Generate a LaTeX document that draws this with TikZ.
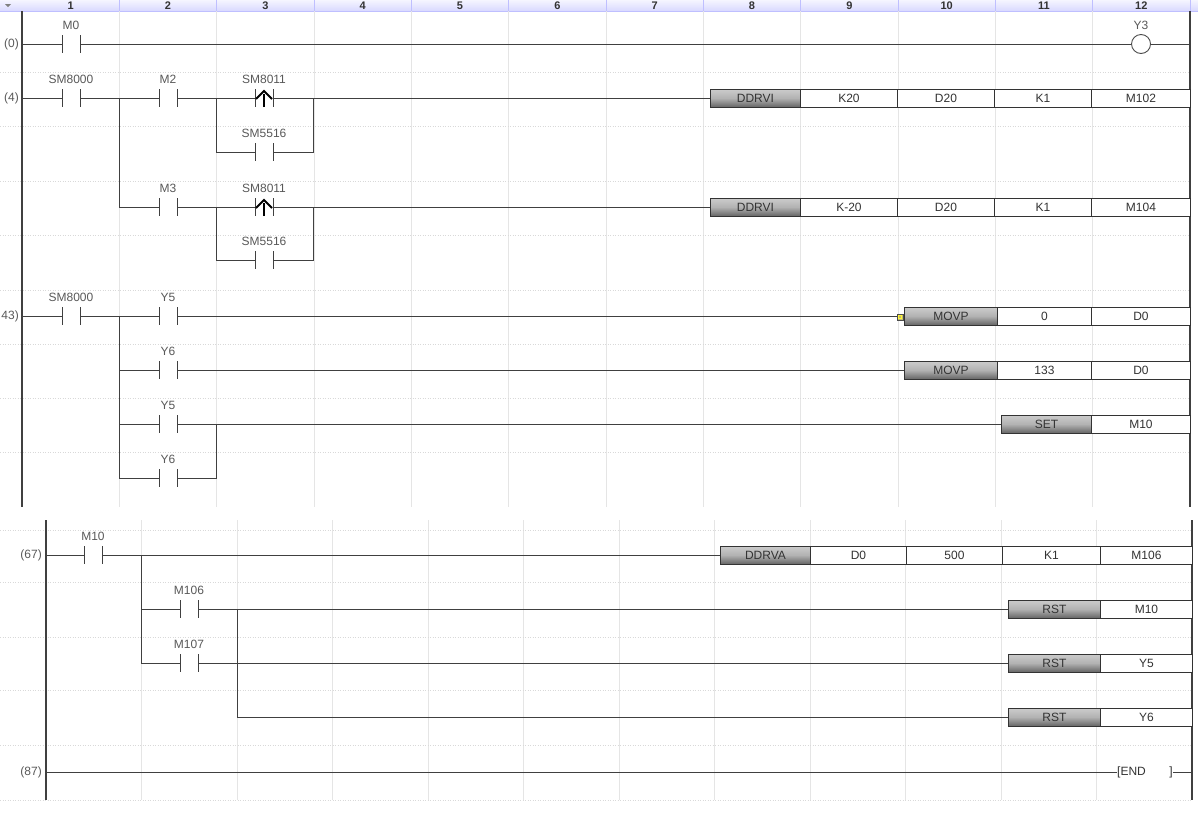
\documentclass[tikz,border=0pt]{standalone}
\usepackage{fontspec}
\setmainfont{Liberation Sans}
\begin{document}
\begin{tikzpicture}[x=1pt,y=-1pt,
  wire/.style={line width=0.9pt,draw=black!75},
  rail/.style={line width=1.3pt,draw=black!75},
  grid/.style={draw=black!15,line width=0.5pt,dotted},
  vgrid/.style={draw=black!10,line width=0.5pt},
  lbl/.style={font=\fontsize{12}{13}\selectfont,text=black!65,inner sep=0pt},
  ins/.style={draw=black!80,line width=0.9pt,top color=black!20,bottom color=black!60,middle color=black!30},
  cell/.style={draw=black!80,line width=0.9pt,fill=white},
  txt/.style={font=\fontsize{12}{13}\selectfont,text=black!80,inner sep=0pt}]
\useasboundingbox (0,0) rectangle (1198,822);
\fill[white] (0,0) rectangle (1198,822);
% header
\shade[top color=blue!4,bottom color=blue!15] (0,0) rectangle (1198,11);
\draw[blue!25] (0,11) -- (1198,11);
\fill[black!50] (5,4) -- (11,4) -- (8,7) -- cycle;
\foreach \i in {1,...,12}{
  \pgfmathsetmacro\xc{22+97.33*(\i-0.5)}
  \node[font=\fontsize{11}{11}\selectfont\bfseries,text=black!80,inner sep=0pt] (h\i) at (\xc,5.5) {\i};
  \draw[blue!25] ({22+97.33*\i},0) -- ({22+97.33*\i},11);
}
% top grid
\foreach \i in {1,...,11}{\draw[vgrid] ({22+97.33*\i},11) -- ({22+97.33*\i},507);}
\foreach \y in {72,126,181,235,290,344,398,452}{\draw[grid] (0,\y) -- (1190,\y);}
% bottom grid
\foreach \i in {1,...,11}{\draw[vgrid] ({46+95.5*\i},520) -- ({46+95.5*\i},800);}
\foreach \y in {530,582,637,690,745,800}{\draw[grid] (0,\y) -- (1192,\y);}
% contact macro
\newcommand\ctc[4]{% name, x, y, label
  \coordinate (#1) at (#2,#3);
  \coordinate (#1w) at (#2-9,#3); \coordinate (#1e) at (#2+9,#3);
  \draw[wire] (#2-9,#3-9) -- (#2-9,#3+9) (#2+9,#3-9) -- (#2+9,#3+9);
  \node[lbl] (#1l) at (#2,#3-19) {#4};}
\newcommand\edge[4]{\ctc{#1}{#2}{#3}{#4}
  \draw[line width=1.6pt] (#2,#3+9) -- (#2,#3-4);
  \draw[line width=1.8pt] (#2-8,#3+1) -- (#2,#3-7) -- (#2+8,#3+1);}
% rails
\draw[rail] (22,11) -- (22,507);
\draw[rail] (1190,11) -- (1190,507);
\draw[rail] (46,520) -- (46,800);
\draw[rail] (1192,520) -- (1192,800);
% step labels
\node[lbl,anchor=east] (s0) at (19,44) {(0)};
\node[lbl,anchor=east] (s4) at (19,98) {(4)};
\node[lbl,anchor=east] (s43) at (19,316) {43)};
\node[lbl,anchor=east] (s67) at (42,555) {(67)};
\node[lbl,anchor=east] (s87) at (42,772) {(87)};
% rung 0
\ctc{m0}{71}{44}{M0}
\node[draw=black!70,line width=0.9pt,circle,minimum size=19pt,inner sep=0pt,fill=white] (y3) at (1141,44) {};
\node[lbl] (y3l) at (1141,25) {Y3};
\draw[wire] (22,44) -- (m0w) (m0e) -- (y3.west) (y3.east) -- (1190,44);
% rung 4
\ctc{sa}{71}{98}{SM8000}
\ctc{m2}{168}{98}{M2}
\edge{ea}{264}{98}{SM8011}
\ctc{sb}{264}{152}{SM5516}
\ctc{m3}{168}{207}{M3}
\edge{eb}{264}{207}{SM8011}
\ctc{sc}{264}{260}{SM5516}
\coordinate (b1) at (119,98); \coordinate (b1b) at (119,207);
\draw[wire] (22,98) -- (saw) (sae) -- (m2w) (m2e) -- (eaw);
\draw[wire] (b1) -- (b1b) -- (m3w) (m3e) -- (ebw);
\draw[wire] (216,98) -- (216,152) -- (sbw) (sbe) -- (313,152) -- (313,98);
\draw[wire] (216,207) -- (216,260) -- (scw) (sce) -- (313,260) -- (313,207);
\newcommand\instr[4]{% name, y, x0, x1
  \node[ins,minimum height=18pt,minimum width={#4-#3},inner sep=0pt,anchor=west,txt] (#1) at (#3,#2) {};}
\newcommand\cells[3]{% y, list of x0/x1/text, name prefix
  \foreach \a/\b/\t [count=\k] in {#2}{
    \node[cell,txt,minimum height=18pt,minimum width={\b-\a},inner sep=0pt,anchor=west] (#3\k) at (\a,#1) {\t};}}
\instr{dd1}{98}{710}{800}\node[txt] at (dd1) {DDRVI};
\cells{98}{800/897/K20,897/994/D20,994/1091/K1,1091/1190/M102}{c1}
\draw[wire] (eae) -- (dd1.west);
\instr{dd2}{207}{710}{800}\node[txt] at (dd2) {DDRVI};
\cells{207}{800/897/K-20,897/994/D20,994/1091/K1,1091/1190/M104}{c2}
\draw[wire] (ebe) -- (dd2.west);
% rung 43
\ctc{sd}{71}{316}{SM8000}
\ctc{y5a}{168}{316}{Y5}
\ctc{y6a}{168}{370}{Y6}
\ctc{y5b}{168}{424}{Y5}
\ctc{y6b}{168}{478}{Y6}
\draw[wire] (22,316) -- (sdw) (sde) -- (y5aw);
\draw[wire] (119,316) -- (119,478) -- (y6bw);
\draw[wire] (119,370) -- (y6aw) (119,424) -- (y5bw);
\draw[wire] (y6be) -- (216,478) -- (216,424);
\instr{mv1}{316}{904}{997}\node[txt] at (mv1) {MOVP};
\cells{316}{997/1091/0,1091/1190/D0}{c3}
\instr{mv2}{370}{904}{997}\node[txt] at (mv2) {MOVP};
\cells{370}{997/1091/133,1091/1190/D0}{c4}
\instr{st}{424}{1001}{1091}\node[txt] at (st) {SET};
\cells{424}{1091/1190/M10}{c5}
\draw[wire] (y5ae) -- (mv1.west) (y6ae) -- (mv2.west) (y5be) -- (st.west);
\node[draw=black!70,fill=yellow!60!black!70,minimum size=6pt,inner sep=0pt] (ym) at (900,317) {};
\node[draw=yellow!80,minimum size=3pt,inner sep=0pt] at (ym) {};
% rung 67
\ctc{m10}{93}{555}{M10}
\ctc{m106}{189}{609}{M106}
\ctc{m107}{189}{663}{M107}
\draw[wire] (46,555) -- (m10w) (m10e) -- (720,555);
\draw[wire] (141,555) -- (141,663) -- (m107w) (141,609) -- (m106w);
\draw[wire] (m106e) -- (1008,609) (m107e) -- (1008,663);
\draw[wire] (237,609) -- (237,717) -- (1008,717);
\instr{da}{555}{720}{810}\node[txt] at (da) {DDRVA};
\cells{555}{810/906/D0,906/1002/500,1002/1100/K1,1100/1192/M106}{c6}
\instr{r1}{609}{1008}{1100}\node[txt] at (r1) {RST};
\cells{609}{1100/1192/M10}{c7}
\instr{r2}{663}{1008}{1100}\node[txt] at (r2) {RST};
\cells{663}{1100/1192/Y5}{c8}
\instr{r3}{717}{1008}{1100}\node[txt] at (r3) {RST};
\cells{717}{1100/1192/Y6}{c9}
% END
\node[txt,anchor=west] (end) at (1117,772) {[END};
\node[txt] (endr) at (1171,772) {]};
\draw[wire] (46,772) -- (end.west) (endr.east) -- (1192,772);
\end{tikzpicture}
\end{document}
